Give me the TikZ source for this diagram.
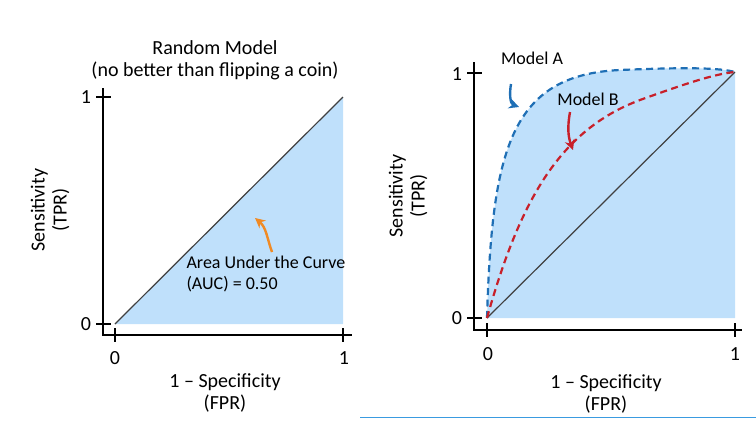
\documentclass[tikz,border=0pt]{standalone}
\usepackage{fontspec}
\setmainfont{Carlito}
\usetikzlibrary{arrows.meta}
\definecolor{fillb}{HTML}{BFE0FB}
\definecolor{ma}{HTML}{1F6FB5}
\definecolor{mb}{HTML}{C8202A}
\definecolor{orng}{HTML}{F08A24}
\definecolor{uline}{HTML}{3A9BE0}
\begin{document}
\begin{tikzpicture}[x=1pt,y=-1pt,font=\fontsize{20}{22}\selectfont,
  ax/.style={line width=1.3pt,black},
  tk/.style={line width=1.3pt,black},
  lbl/.style={inner sep=1pt},
  carr/.style={line width=2.4pt,-{Stealth[length=10pt,width=10pt]}}]
\useasboundingbox (0,0) rectangle (756,437);
% left
\fill[fillb] (115,324) -- (343,97) -- (343,324) -- cycle;
\draw[line width=1.2pt,black!75] (115,324) -- (343,97);
\draw[ax] (103,88) -- (103,335) -- (352,335);
\draw[tk] (96,97) -- (111,97) (96,324) -- (111,324);
\draw[tk] (115,328) -- (115,342) (343,328) -- (343,342);
\node[lbl] (l1) at (86,97) {1};
\node[lbl] (l0) at (86,324) {0};
\node[lbl] (lx0) at (115,358) {0};
\node[lbl] (lx1) at (344,358) {1};
\node[align=center] (lt) at (215,60) {Random Model\\(no better than flipping a coin)};
\node[align=center] (lxl) at (225,393) {1 -- Specificity\\(FPR)};
\node[align=center,rotate=90] (lyl) at (50,210) {Sensitivity\\(TPR)};
\node[align=left,anchor=west,font=\fontsize{18}{21}\selectfont] (auc) at (183,274) {Area Under the Curve\\(AUC) = 0.50};
\draw[carr,orng] (272,252) to[out=110,in=-40] (255,218);
% right
\fill[fillb] (487,318) .. controls (492,150) and (510,75) .. (620,70) .. controls (690,67) and (720,68) .. (735,72) -- (735,318) -- cycle;
\draw[line width=1.2pt,black!75] (487,318) -- (735,72);
\draw[ma,line width=2.2pt,dash pattern=on 7pt off 4.5pt] (487,318) .. controls (492,150) and (510,75) .. (620,70) .. controls (690,67) and (720,68) .. (735,72);
\draw[mb,line width=2.2pt,dash pattern=on 7pt off 4.5pt] (487,318) .. controls (520,200) and (560,130) .. (640,100) .. controls (690,82) and (715,74) .. (735,72);
\draw[ax] (474,62) -- (474,330) -- (742,330);
\draw[tk] (467,73) -- (482,73) (467,318) -- (482,318);
\draw[tk] (487,323) -- (487,337) (735,323) -- (735,337);
\node[lbl] (r1) at (457,74) {1};
\node[lbl] (r0) at (457,318) {0};
\node[lbl] (rx0) at (488,354) {0};
\node[lbl] (rx1) at (735,354) {1};
\node[align=center] (rxl) at (606,394) {1 -- Specificity\\(FPR)};
\node[align=center,rotate=90] (ryl) at (408,196) {Sensitivity\\(TPR)};
\node[font=\fontsize{18}{20}\selectfont] (mA) at (532,58) {Model A};
\node[font=\fontsize{18}{20}\selectfont] (mB) at (588,99) {Model B};
\draw[carr,ma] (511,84) to[out=-100,in=160] (519,107);
\draw[carr,mb] (570,112) to[out=-100,in=110] (573,150);
\draw[uline,line width=1pt] (360,417) -- (756,417);
\end{tikzpicture}
\end{document}
